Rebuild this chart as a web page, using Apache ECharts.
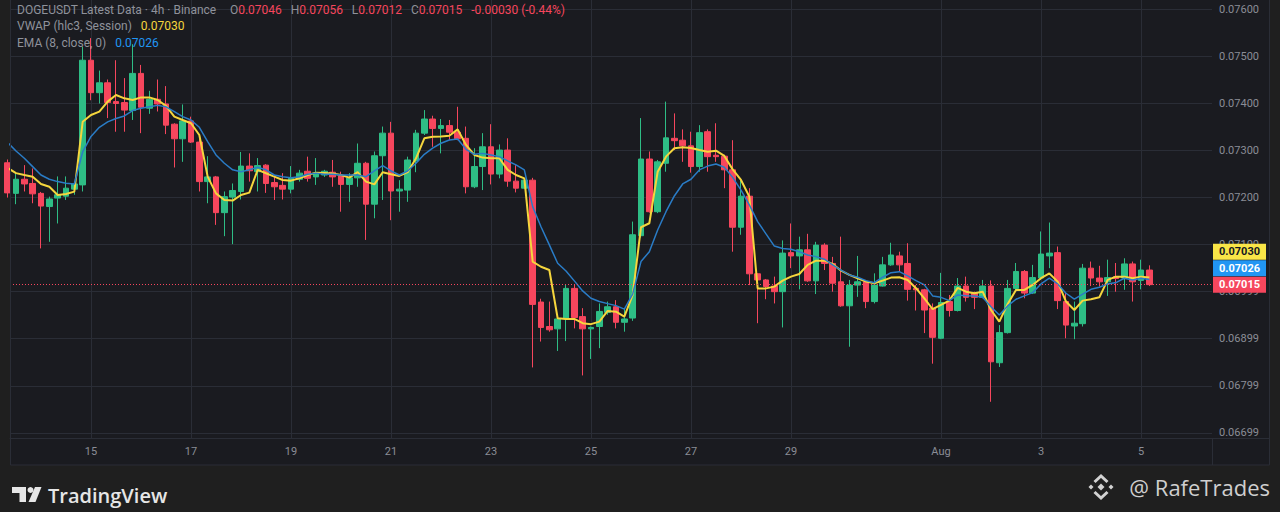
<!DOCTYPE html>
<html>
<head>
<meta charset="utf-8">
<script src="https://cdn.jsdelivr.net/npm/echarts@6/dist/echarts.min.js"></script>
<style>
html,body{margin:0;padding:0;background:#1f1f1f;}
#chart{width:1280px;height:512px;}
</style>
</head>
<body>
<div id="chart"></div>
<script>
// 4h bars, index 0 = Jul 15 00:00; first bar in the arrays is index -10
const firstBar = -10;

const opens = [
0.07274,0.07209,0.07239,0.0723,0.07209,0.07181,0.07199,0.07203,0.07218,0.07227,
0.07492,0.07423,0.07444,0.07404,0.07402,0.07385,0.07464,0.0739,0.07409,0.07399,
0.07356,0.07325,0.07363,0.07318,0.07234,0.07244,0.07168,0.07201,0.07213,0.07267,
0.07255,0.07269,0.07232,0.07226,0.07218,0.07239,0.07256,0.07244,0.07248,0.07254,
0.07246,0.07228,0.07242,0.07273,0.07186,0.07289,0.07337,0.07214,0.07216,0.07278,
0.07337,0.07367,0.07347,0.07353,0.07339,0.07326,0.07223,0.07266,0.07308,0.0725,
0.07301,0.07235,0.0722,0.07237,0.06978,0.06926,0.06921,0.06942,0.07007,0.06947,
0.06921,0.06926,0.06956,0.06968,0.06935,0.06944,0.07119,0.07282,0.0717,0.07273,
0.07326,0.07322,0.0731,0.07266,0.0734,0.0729,0.07288,0.07259,0.07137,0.07203,
0.07038,0.07025,0.07012,0.07,0.07083,0.07076,0.07089,0.07023,0.07099,0.0706,
0.07021,0.0697,0.07014,0.07021,0.06979,0.07012,0.07057,0.07076,0.0706,0.07007,
0.07004,0.06965,0.06901,0.06979,0.0696,0.07012,0.06997,0.06988,0.07012,0.06849,
0.06913,0.07007,0.07043,0.06997,0.07029,0.07076,0.07083,0.06979,0.06927,0.06932,
0.0705,0.07029,0.07021,0.07032,0.07029,0.07059,0.07024,0.07046
];
const closes = [
0.0721,0.07239,0.07229,0.07208,0.07182,0.07197,0.07206,0.0722,0.07229,0.07492,
0.07423,0.07444,0.07402,0.074,0.07386,0.07464,0.07392,0.07409,0.07399,0.07354,
0.07325,0.07363,0.07318,0.07234,0.07244,0.07168,0.07202,0.07215,0.07267,0.07257,
0.07268,0.0723,0.07223,0.07218,0.07241,0.07252,0.07241,0.07252,0.07256,0.07244,
0.07228,0.07242,0.07273,0.07186,0.07289,0.07337,0.07214,0.07218,0.0728,0.07337,
0.07367,0.07347,0.07353,0.07339,0.07325,0.07223,0.07266,0.07308,0.0725,0.07301,
0.07235,0.0722,0.07237,0.06973,0.06924,0.06919,0.06942,0.07007,0.06945,0.06921,
0.06924,0.06958,0.06968,0.06935,0.06942,0.07121,0.07282,0.0717,0.07276,0.07327,
0.07321,0.0731,0.07266,0.07338,0.07287,0.07287,0.07259,0.07137,0.07203,0.07038,
0.07025,0.07011,0.07,0.07082,0.07076,0.07089,0.07023,0.07099,0.0706,0.07018,
0.0697,0.07014,0.07021,0.06979,0.07014,0.07057,0.07078,0.07057,0.07005,0.07004,
0.06961,0.06903,0.06977,0.0696,0.07012,0.06988,0.06988,0.07012,0.06851,0.06913,
0.07007,0.07043,0.06997,0.0703,0.0708,0.07082,0.06981,0.06929,0.06933,0.0705,
0.07029,0.07021,0.0703,0.07028,0.07059,0.07021,0.07046,0.07015
];
const lows = [
0.072,0.07186,0.07213,0.07188,0.07092,0.07106,0.07145,0.07195,0.07206,0.07213,
0.07407,0.074,0.07369,0.0734,0.0734,0.07365,0.07337,0.07378,0.07383,0.07335,
0.07264,0.07276,0.07316,0.07213,0.07188,0.07142,0.07118,0.07101,0.07196,0.07234,
0.07213,0.0721,0.07195,0.07196,0.07209,0.07234,0.07234,0.07227,0.07244,0.07223,
0.0717,0.07191,0.07223,0.0711,0.07156,0.07195,0.07152,0.0717,0.07191,0.07254,
0.07333,0.07308,0.07294,0.07322,0.07322,0.07209,0.0722,0.07216,0.07228,0.07241,
0.07223,0.07211,0.07218,0.06839,0.06894,0.06915,0.06874,0.06895,0.06922,0.06822,
0.06857,0.0688,0.06951,0.06922,0.06915,0.06938,0.07115,0.07168,0.07167,0.07255,
0.07301,0.07276,0.07253,0.07255,0.07255,0.07276,0.0722,0.07085,0.07121,0.07014,
0.06933,0.06984,0.06975,0.06924,0.0705,0.07005,0.07021,0.06995,0.07046,0.07,
0.06968,0.06883,0.06989,0.06965,0.06975,0.07011,0.07055,0.07043,0.06981,0.0696,
0.06912,0.06847,0.06899,0.06947,0.06958,0.06979,0.06963,0.06986,0.06766,0.0684,
0.06911,0.07,0.06986,0.06995,0.07025,0.0705,0.06963,0.06901,0.06899,0.06926,
0.07012,0.07011,0.06991,0.07,0.07004,0.06979,0.07005,0.07012
];
const highs = [
0.07281,0.07252,0.07269,0.07262,0.07212,0.07202,0.07245,0.07245,0.07234,0.07521,
0.07539,0.0747,0.07451,0.07492,0.07454,0.07526,0.07482,0.07427,0.07451,0.07437,
0.07358,0.07398,0.07372,0.0733,0.07288,0.07246,0.07213,0.0723,0.07297,0.07294,
0.07284,0.07271,0.07248,0.07252,0.07267,0.07259,0.07287,0.07284,0.07259,0.0728,
0.07255,0.07252,0.07315,0.07276,0.07298,0.07351,0.07361,0.07237,0.07287,0.07344,
0.07386,0.07374,0.07367,0.07365,0.07393,0.07351,0.07305,0.07337,0.07356,0.07313,
0.07326,0.07269,0.07241,0.07242,0.06985,0.06979,0.06947,0.07016,0.07016,0.06965,
0.06926,0.06975,0.06979,0.06982,0.06965,0.07149,0.07369,0.07298,0.0728,0.07404,
0.07379,0.07345,0.0734,0.07354,0.07345,0.07358,0.07291,0.07322,0.07237,0.0722,
0.07039,0.07027,0.07032,0.07109,0.07145,0.07117,0.07123,0.07106,0.07103,0.07074,
0.07117,0.07025,0.07076,0.07025,0.07039,0.07074,0.07104,0.07085,0.07103,0.07014,
0.07006,0.06975,0.0704,0.06993,0.07029,0.07032,0.07,0.07025,0.07024,0.06929,
0.07025,0.07061,0.07046,0.07057,0.07128,0.07147,0.07096,0.06998,0.06979,0.07059,
0.07064,0.07055,0.07068,0.07061,0.07071,0.07064,0.07068,0.07056
];
const vwapValues = [
0.07263,0.07252,0.07248,0.072445,0.07229,0.07223,0.072056,0.072078,0.072127,0.07361,
0.073756,0.073826,0.07404,0.07418,0.07411,0.074075,0.07413,0.07413,0.074075,0.07395,
0.07372,0.07365,0.07358,0.07333,0.072445,0.07209,0.07195,0.071936,0.072056,0.072106,
0.07259,0.072517,0.072445,0.072375,0.07236,0.07241,0.07248,0.07253,0.072524,0.07251,
0.07248,0.072425,0.07254,0.07234,0.07228,0.07254,0.072496,0.07246,0.07254,0.072836,
0.07326,0.073295,0.0733,0.073316,0.07345,0.07312,0.072906,0.07285,0.072836,0.072836,
0.07259,0.07248,0.07241,0.07064,0.07053,0.07046,0.069436,0.06942,0.06942,0.06933,
0.06931,0.069364,0.06959,0.069576,0.06947,0.06993,0.07137,0.071455,0.07255,0.07287,
0.07305,0.07307,0.073055,0.07301,0.072976,0.072998,0.072885,0.0726,0.072375,0.07202,
0.07007,0.07007,0.070108,0.070235,0.07032,0.070377,0.07057,0.07066,0.07066,0.07059,
0.070448,0.070356,0.070286,0.070214,0.07018,0.070235,0.070299,0.070307,0.07025,0.070074,
0.06986,0.069627,0.069719,0.06981,0.07008,0.07,0.069967,0.07,0.06961,0.069364,
0.06974,0.070038,0.070038,0.070144,0.070286,0.07039,0.070214,0.06979,0.06961,0.06981,
0.06984,0.06988,0.07025,0.07032,0.07032,0.070286,0.07032,0.0703
];
const emaValues = [
0.07317,0.07299,0.072836,0.072658,0.07248,0.07239,0.07234,0.072305,0.07229,0.07297,
0.0733,0.073495,0.07361,0.07368,0.073735,0.07385,0.0739,0.07393,0.07396,0.07393,
0.073826,0.07372,0.07365,0.073495,0.07319,0.072906,0.07273,0.07259,0.07255,0.07259,
0.072645,0.07259,0.07248,0.072445,0.07242,0.072445,0.072496,0.07252,0.072496,0.072496,
0.07248,0.07248,0.07248,0.072445,0.072566,0.07268,0.072566,0.07248,0.072566,0.07273,
0.07292,0.07305,0.073155,0.073225,0.073246,0.073027,0.07292,0.07294,0.072906,0.07287,
0.07278,0.072694,0.07259,0.071808,0.07138,0.070994,0.070605,0.07044,0.07023,0.070016,
0.06986,0.06979,0.069746,0.069704,0.06963,0.06995,0.07064,0.07085,0.07131,0.0717,
0.072035,0.07229,0.07239,0.072588,0.07267,0.072715,0.072645,0.07243,0.07216,0.071844,
0.07149,0.071228,0.07097,0.07092,0.0709,0.07085,0.07078,0.070745,0.07069,0.07057,
0.07046,0.070356,0.070307,0.070235,0.07019,0.070307,0.070405,0.070426,0.070335,0.070235,
0.070144,0.06991,0.06988,0.06981,0.06993,0.069916,0.06991,0.06988,0.06968,0.069506,
0.069698,0.06984,0.06991,0.06998,0.070165,0.070286,0.070165,0.069967,0.06984,0.06995,
0.07005,0.070095,0.070165,0.070193,0.070286,0.07025,0.070286,0.07026
];

const xTickValues = [0, 12, 24, 36, 48, 60, 72, 84, 102, 114, 126];
const xTickLabels = ['15', '17', '19', '21', '23', '25', '27', '29', 'Aug', '3', '5'];
const yTickValues = [0.067, 0.068, 0.069, 0.070, 0.071, 0.072, 0.073, 0.074, 0.075, 0.076];
const yTickLabels = ['0.06699', '0.06799', '0.06899', '0.06999', '0.07100', '0.07200', '0.07300', '0.07400', '0.07500', '0.07600'];
const changeText = '-0.00030 (-0.44%)';

const FONT = 'Roboto, "Noto Sans", sans-serif';
const GREEN = '#2ebd85', RED = '#f6465d', YELLOW = '#f5d63d', BLUE = '#2a7cc6';
const GRID = '#2a2d36', LABEL = '#8a8d96', MUTED = '#8f929b';

const candleData = opens.map((o, k) => [firstBar + k, o, closes[k], lows[k], highs[k]]);
const vwapData = vwapValues.map((v, k) => [firstBar + k, v]);
const emaData = emaValues.map((v, k) => [firstBar + k, v]);
const last = opens.length - 1;
const lastO = opens[last], lastH = highs[last], lastL = lows[last], lastC = closes[last];

const chart = echarts.init(document.getElementById('chart'), null, {renderer: 'svg', width: 1280, height: 512});

const LEG = 12;
const option = {
  backgroundColor: '#1f1f1f',
  animation: false,
  textStyle: {fontFamily: FONT},
  title: [
    {
      left: 17, top: 1, padding: 0,
      text: '{g|DOGEUSDT Latest Data · 4h · Binance}   {g|O}{r|' + lastO.toFixed(5) + '}  {g|H}{r|' + lastH.toFixed(5) +
            '}  {g|L}{r|' + lastL.toFixed(5) + '}  {g|C}{r|' + lastC.toFixed(5) + '}  {r|' + changeText + '}',
      textStyle: {rich: {
        g: {color: MUTED, fontSize: LEG, fontFamily: FONT, fontWeight: 'normal'},
        r: {color: RED, fontSize: LEG, fontFamily: FONT, fontWeight: 'normal'}
      }}
    },
    {
      left: 17, top: 17, padding: 0,
      text: '{g|VWAP (hlc3, Session)}  {y|' + vwapValues[last].toFixed(5) + '}',
      textStyle: {rich: {
        g: {color: MUTED, fontSize: LEG, fontFamily: FONT, fontWeight: 'normal'},
        y: {color: YELLOW, fontSize: LEG, fontFamily: FONT, fontWeight: 'normal'}
      }}
    },
    {
      left: 17, top: 34, padding: 0,
      text: '{g|EMA (8, close, 0)}  {b|' + emaValues[last].toFixed(5) + '}',
      textStyle: {rich: {
        g: {color: MUTED, fontSize: LEG, fontFamily: FONT, fontWeight: 'normal'},
        b: {color: '#2196f3', fontSize: LEG, fontFamily: FONT, fontWeight: 'normal'}
      }}
    }
  ],
  grid: {left: 10, right: 68, top: 0, bottom: 74, containLabel: false},
  xAxis: {
    type: 'value', min: -9.72, max: 134.52,
    axisLine: {show: true, onZero: false, lineStyle: {color: GRID}},
    axisTick: {show: false, customValues: xTickValues},
    axisLabel: {
      customValues: xTickValues, color: LABEL, fontSize: 11, fontFamily: FONT, margin: 8,
      formatter: v => xTickLabels[xTickValues.indexOf(Math.round(v))]
    },
    splitLine: {show: true, lineStyle: {color: GRID, width: 1}}
  },
  yAxis: {
    type: 'value', position: 'right', min: 0.06689, max: 0.0762,
    axisLine: {show: true, lineStyle: {color: GRID}},
    axisTick: {show: false, customValues: yTickValues},
    axisLabel: {
      customValues: yTickValues, color: LABEL, fontSize: 11, fontFamily: FONT, margin: 7,
      formatter: v => {
        const i = yTickValues.findIndex(t => Math.abs(t - v) < 1e-7);
        return i >= 0 ? yTickLabels[i] : '';
      }
    },
    splitLine: {show: true, lineStyle: {color: GRID, width: 1}}
  },
  series: [
    {
      name: 'DOGEUSDT', type: 'candlestick', data: candleData,
      encode: {x: 0, y: [1, 2, 3, 4]},
      barWidth: 6, z: 3,
      itemStyle: {color: GREEN, color0: RED, borderColor: GREEN, borderColor0: RED, borderWidth: 1}
    },
    {
      name: 'VWAP', type: 'line', data: vwapData, symbol: 'none', z: 4,
      lineStyle: {color: YELLOW, width: 2},
      markLine: {
        silent: true, symbol: ['none', 'none'], animation: false, precision: 5,
        label: {show: false},
        lineStyle: {color: RED, type: [1, 2], width: 1, opacity: 1},
        data: [{yAxis: lastC}]
      }
    },
    {
      name: 'EMA', type: 'line', data: emaData, symbol: 'none', z: 4,
      lineStyle: {color: BLUE, width: 1.5}
    }
  ]
};
chart.setOption(option);

// Overlay: panel, frame, price tags, footer
const yRed = chart.convertToPixel({yAxisIndex: 0}, lastC);
function diamond(cx, cy, r) { return [[cx, cy - r], [cx + r, cy], [cx, cy + r], [cx - r, cy]]; }
const tags = [
  {v: vwapValues[last], bg: '#f9e547', fg: '#131722', dy: -33},
  {v: emaValues[last], bg: '#2196f3', fg: '#ffffff', dy: -16.5},
  {v: lastC, bg: RED, fg: '#ffffff', dy: 0}
];
const elements = [
  {type: 'rect', z: -100, silent: true, shape: {x: 10, y: 0, width: 1260, height: 465}, style: {fill: '#1a1b20'}},
  {type: 'rect', z: 100, silent: true, shape: {x: 10.5, y: -1, width: 1259, height: 466}, style: {fill: 'none', stroke: GRID, lineWidth: 1}},
  {type: 'line', z: 100, silent: true, shape: {x1: 1212, y1: 438.5, x2: 1270, y2: 438.5}, style: {stroke: GRID, lineWidth: 1}},
  {type: 'line', z: 100, silent: true, shape: {x1: 1212.5, y1: 438, x2: 1212.5, y2: 465}, style: {stroke: GRID, lineWidth: 1}}
];
tags.forEach(t => {
  const cy = yRed + t.dy;
  elements.push({type: 'rect', z: 100, silent: true, shape: {x: 1213, y: cy - 8, width: 53, height: 16}, style: {fill: t.bg}});
  elements.push({type: 'text', z: 101, silent: true, x: 1239.5, y: cy,
    style: {text: t.v.toFixed(5), fill: t.fg, font: 'bold 11px ' + FONT, textAlign: 'center', textVerticalAlign: 'middle'}});
});
// TradingView mark + name
elements.push(
  {type: 'rect', z: 100, silent: true, shape: {x: 12, y: 487, width: 14, height: 6}, style: {fill: '#e6e6e6'}},
  {type: 'rect', z: 100, silent: true, shape: {x: 19.5, y: 487, width: 6.5, height: 15}, style: {fill: '#e6e6e6'}},
  {type: 'circle', z: 100, silent: true, shape: {cx: 30.5, cy: 490, r: 3}, style: {fill: '#e6e6e6'}},
  {type: 'polygon', z: 100, silent: true, shape: {points: [[35, 487], [41.5, 487], [35.5, 502], [28.5, 502]]}, style: {fill: '#e6e6e6'}},
  {type: 'text', z: 100, silent: true, x: 48, y: 495,
    style: {text: 'TradingView', fill: '#e6e6e6', font: '600 20px "Open Sans", sans-serif', textAlign: 'left', textVerticalAlign: 'middle'}}
);
// Binance mark + handle
const bx = 1101, by = 487;
elements.push(
  {type: 'polygon', z: 100, silent: true, shape: {points: diamond(bx, by, 3.5)}, style: {fill: '#d2d2d2'}},
  {type: 'polygon', z: 100, silent: true, shape: {points: diamond(bx - 10, by, 2.5)}, style: {fill: '#d2d2d2'}},
  {type: 'polygon', z: 100, silent: true, shape: {points: diamond(bx + 10, by, 2.5)}, style: {fill: '#d2d2d2'}},
  {type: 'polyline', z: 100, silent: true, shape: {points: [[bx - 6.5, by - 5], [bx, by - 11], [bx + 6.5, by - 5]]}, style: {stroke: '#d2d2d2', lineWidth: 3, fill: 'none'}},
  {type: 'polyline', z: 100, silent: true, shape: {points: [[bx - 6.5, by + 5], [bx, by + 11], [bx + 6.5, by + 5]]}, style: {stroke: '#d2d2d2', lineWidth: 3, fill: 'none'}},
  {type: 'text', z: 100, silent: true, x: 1270, y: 487,
    style: {text: '@ RafeTrades', fill: '#cfcfcf', font: '22px "Open Sans", sans-serif', textAlign: 'right', textVerticalAlign: 'middle'}}
);
chart.setOption({graphic: {elements: elements}});
</script>
</body>
</html>
